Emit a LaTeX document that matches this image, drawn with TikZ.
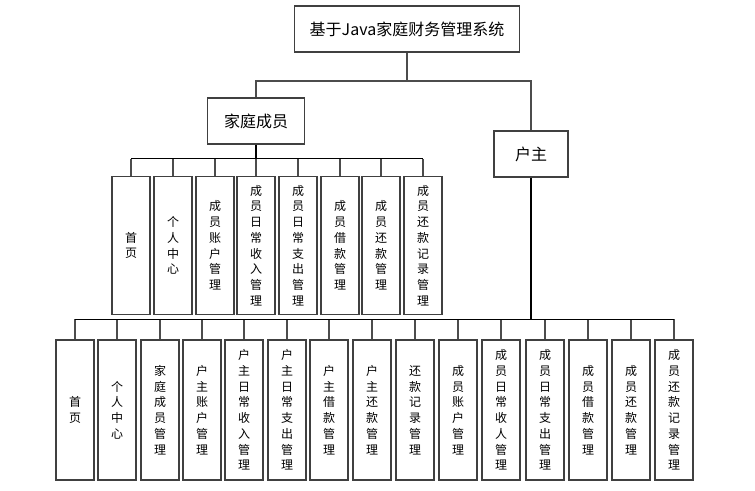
\documentclass[tikz,border=0pt]{standalone}
\usepackage{fontspec}
\setmainfont{Noto Sans CJK SC}
\begin{document}
\begin{tikzpicture}[x=0.75pt,y=-0.75pt,
  box/.style={draw=black!75,line width=0.8pt,fill=white,font=\fontsize{12}{14}\selectfont,inner sep=0pt},
  col/.style={draw=black!75,line width=0.8pt,fill=white,minimum width=28.5pt,align=center,inner sep=0pt,font=\fontsize{9}{11.8}\selectfont},
  ln/.style={draw=black!70,line width=0.8pt},
  bus/.style={draw=black,line width=1.2pt}]
\useasboundingbox (0,0) rectangle (755,490);
\node[box,minimum width=168.75pt,minimum height=34.5pt] (root) at (407,29) {基于Java家庭财务管理系统};
\node[box,minimum width=72.75pt,minimum height=34.5pt] (fm) at (256,121) {家庭成员};
\node[box,minimum width=55.5pt,minimum height=34.5pt] (hz) at (531,154) {户主};
\coordinate (j1) at (407,81);
\draw[ln] (root.south) -- (j1);
\draw[ln] (fm.north) |- (j1) -| (hz.north);
% member row
\foreach \i/\x/\t in {1/131/{首\\页},2/173/{个\\人\\中\\心},3/215/{成\\员\\账\\户\\管\\理},4/256/{成\\员\\日\\常\\收\\入\\管\\理},5/298/{成\\员\\日\\常\\支\\出\\管\\理},6/340/{成\\员\\借\\款\\管\\理},7/381/{成\\员\\还\\款\\管\\理},8/423/{成\\员\\还\\款\\记\\录\\管\\理}}{
  \node[col,minimum height=104pt] (m\i) at (\x,245.5) {\t};
  \draw[ln] (m\i.north) -- ++(0,-17) coordinate (mt\i);
}
\draw[bus] (mt1) -- (mt8);
\draw[bus] (fm.south) -- (256,159);
% owner row
\foreach \i/\x/\t in {1/75/{首\\页},2/117/{个\\人\\中\\心},3/160/{家\\庭\\成\\员\\管\\理},4/202/{户\\主\\账\\户\\管\\理},5/244/{户\\主\\日\\常\\收\\入\\管\\理},6/287/{户\\主\\日\\常\\支\\出\\管\\理},7/329/{户\\主\\借\\款\\管\\理},8/372/{户\\主\\还\\款\\管\\理},9/415/{还\\款\\记\\录\\管\\理},10/458/{成\\员\\账\\户\\管\\理},11/501/{成\\员\\日\\常\\收\\人\\管\\理},12/545/{成\\员\\日\\常\\支\\出\\管\\理},13/588/{成\\员\\借\\款\\管\\理},14/631/{成\\员\\还\\款\\管\\理},15/674/{成\\员\\还\\款\\记\\录\\管\\理}}{
  \node[col,minimum height=105pt] (o\i) at (\x,410) {\t};
  \draw[ln] (o\i.north) -- ++(0,-20) coordinate (ot\i);
}
\draw[bus] (ot1) -- (ot15);
\draw[bus] (hz.south) -- (531,320);
\end{tikzpicture}
\end{document}
